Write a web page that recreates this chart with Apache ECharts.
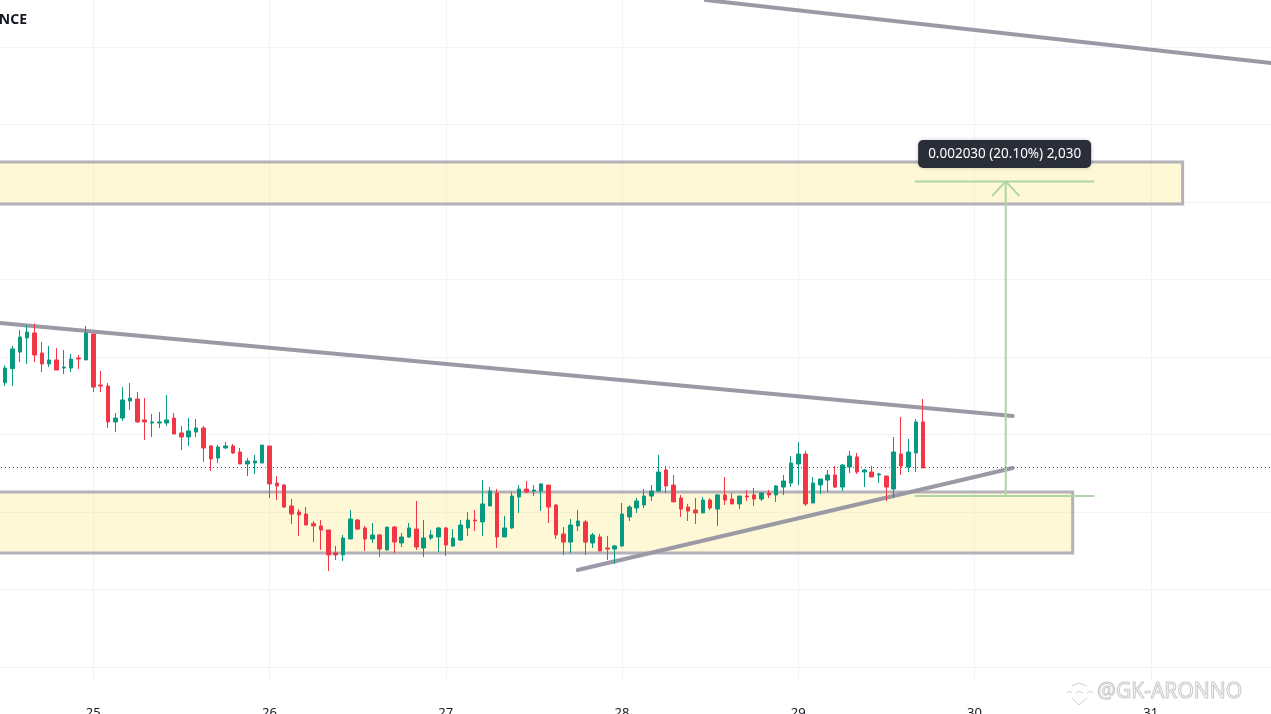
<!DOCTYPE html>
<html>
<head>
<meta charset="utf-8">
<title>BINANCE</title>
<style>
html, body { margin: 0; padding: 0; background: #fff; }
#main { width: 1271px; height: 714px; overflow: hidden; }
</style>
<script src="https://cdn.jsdelivr.net/npm/echarts@6/dist/echarts.min.js"></script>
</head>
<body>
<div id="main"></div>
<script>
// prices are kept in ticks, 1 tick = 0.000001
// hourly candles, first one is noon of day 24
var firstDay = 24.5;
var opens = [10834,10925,11032,11123,11155,11026,10955,10981,10929,10929,10994,10981,
    11148,10819,10813,10581,10606,10716,10729,10594,10574,10574,10574,10606,10510,10484,10516,10542,10426,10348,10413,10426,10387,10310,10316,10316,
    10426,10187,10174,10039,10000,9987,9925,9910,9884,9736,9723,9826,9948,9897,9826,9852,9755,9903,9800,9839,9890,9768,9832,9839,
    9897,9781,9819,9897,9948,9936,10039,10123,9839,9897,10097,10148,10135,10135,10174,10045,9858,9806,9910,9936,9800,9839,9768,9761,
    9781,9968,10026,10045,10103,10135,10271,10174,10090,10032,10013,9994,10077,10019,10110,10084,10052,10103,10110,10084,10123,10110,
    10161,10187,10310,10374,10058,10174,10206,10239,10161,10290,10355,10258,10258,10239,10232,10148,10374,10290,10381,10581];
var closes = [10929,11052,11129,11161,11013,10955,10981,10916,10935,10987,10987,11155,
    10806,10813,10581,10606,10723,10735,10581,10581,10581,10581,10594,10503,10484,10523,10542,10413,10342,10419,10426,10381,10310,10329,10329,10432,
    10181,10168,10032,9987,9981,9916,9910,9884,9723,9723,9832,9955,9890,9826,9852,9761,9903,9806,9839,9897,9774,9832,9852,9897,
    9787,9832,9916,9948,9942,10052,10135,9839,9897,10103,10148,10129,10142,10181,10032,9852,9806,9916,9942,9806,9852,9748,9761,9781,
    9987,10032,10071,10103,10135,10258,10168,10065,10019,10006,9994,10077,10026,10110,10077,10052,10103,10097,10084,10123,10110,10168,
    10200,10316,10374,10052,10187,10213,10239,10161,10303,10361,10258,10271,10226,10245,10161,10387,10297,10387,10581,10284];
var lows = [10813,10813,10968,10955,10968,10903,10935,10916,10890,10903,10923,10981,
    10774,10774,10542,10516,10587,10658,10574,10465,10484,10542,10555,10503,10400,10426,10484,10323,10265,10316,10406,10374,10310,10232,10245,10316,
    10090,10077,10026,9923,9845,9916,9806,9755,9619,9690,9684,9826,9884,9748,9800,9710,9755,9736,9774,9832,9755,9710,9819,9742,
    9716,9774,9813,9845,9877,9845,10039,9768,9839,9890,9994,10123,10103,10006,9929,9826,9723,9736,9877,9723,9768,9748,9690,9665,
    9774,9942,9994,10026,10071,10129,10123,10065,9968,9942,9923,9994,10013,9910,10045,10052,10019,10071,10039,10071,10090,10065,
    10110,10161,10174,10039,10058,10116,10129,10155,10135,10252,10245,10161,10226,10187,10071,10090,10239,10258,10258,10284];
var highs = [10946,11071,11174,11206,11217,11097,11071,11058,11045,11019,11013,11200,
    11148,10910,10832,10639,10806,10832,10774,10735,10632,10645,10755,10639,10555,10606,10600,10555,10432,10432,10452,10439,10413,10348,10368,10432,
    10426,10232,10181,10084,10019,10032,9942,9948,9884,9781,9852,10013,9955,9910,9929,9858,9903,9910,9865,9929,10071,9948,9884,9903,
    9903,9890,9948,10000,10013,10206,10161,10148,9974,10129,10174,10200,10174,10187,10174,10052,9903,9955,10013,9948,9865,9858,9845,9787,
    10058,10045,10090,10148,10174,10368,10297,10239,10110,10052,10090,10097,10090,10116,10226,10123,10103,10142,10155,10129,10142,10174,
    10239,10361,10452,10394,10226,10213,10271,10297,10310,10394,10381,10277,10297,10252,10232,10484,10613,10471,10600,10729];

var lastPrice = 10287;

// zones: day from, day to, price low, price high
var upperZone = [24, 31.181, 11987, 12258];
var lowerZone = [24, 30.557, 9735, 10129];

// trend lines: [day, price]
var topLine = [[28.475, 13303], [31.682, 12897]];
var fallingLine = [[24.471, 11219], [30.217, 10619]];
var risingLine = [[27.749, 9626], [30.217, 10284]];

// price range tool
var measureFrom = 10103;
var measureTo = 12133;
var measureDay = 30.177;
var measureLeft = 29.666;
var measureRight = 30.676;
var arrowSpan = 0.074;
var arrowDrop = 90;
var measureText = '0.002030 (20.10%) 2,030';
var measureLabelAt = [30.171, 12310];

var candles = opens.map(function (o, i) {
    return [firstDay + i / 24, o, closes[i], lows[i], highs[i]];
});

function lineSeries(name, points, color, width, z) {
    return {
        name: name,
        type: 'line',
        data: points,
        z: z,
        showSymbol: false,
        silent: true,
        animation: false,
        lineStyle: { color: color, width: width, cap: 'round' }
    };
}

var trendColor = '#9b99a5';
var measureColor = '#add5a8';

var myChart = echarts.init(document.getElementById('main'));
var option = {
    animation: false,
    backgroundColor: '#ffffff',
    // the axis ranges run past the window so every tick stays a round number
    grid: { left: -83, right: -56, top: -30.5, bottom: -30.5, outerBoundsMode: 'none' },
    xAxis: [
        {
            type: 'value', position: 'bottom', min: 24, max: 32, interval: 1, z: 0,
            axisLine: { show: false }, axisTick: { show: false }, axisLabel: { show: false },
            splitLine: { lineStyle: { color: '#f0f3fa', width: 1 } }
        },
        {
            type: 'value', position: 'bottom', min: 24, max: 32, interval: 1, z: 6,
            offset: -38,
            axisLine: { show: false }, axisTick: { show: false }, splitLine: { show: false },
            axisLabel: { margin: 0, fontSize: 13, color: '#131722', fontFamily: 'Noto Sans' }
        }
    ],
    yAxis: {
        type: 'value', min: 8500, max: 13500, interval: 500,
        axisLine: { show: false }, axisTick: { show: false }, axisLabel: { show: false },
        splitLine: { lineStyle: { color: '#f0f3fa', width: 1 } }
    },
    series: [
        {
            name: 'zones',
            type: 'custom',
            z: 1,
            silent: true,
            encode: { x: [0, 1], y: [2, 3] },
            data: [upperZone, lowerZone],
            renderItem: function (params, api) {
                var a = api.coord([api.value(0), api.value(3)]);
                var b = api.coord([api.value(1), api.value(2)]);
                return {
                    type: 'rect',
                    shape: { x: a[0], y: a[1], width: b[0] - a[0], height: b[1] - a[1] },
                    style: { fill: 'rgba(252,232,122,0.3)', stroke: '#b2b2b8', lineWidth: 3 }
                };
            }
        },
        lineSeries('top line', topLine, trendColor, 4, 2),
        lineSeries('falling line', fallingLine, trendColor, 4, 2),
        lineSeries('rising line', risingLine, trendColor, 4, 2),
        {
            name: 'candles',
            type: 'candlestick',
            z: 3,
            encode: { x: 0, y: [1, 2, 3, 4] },
            data: candles,
            barWidth: 4,
            silent: true,
            itemStyle: {
                color: '#089981', color0: '#f23645',
                borderColor: '#089981', borderColor0: '#f23645', borderWidth: 1
            },
            markLine: {
                silent: true,
                symbol: 'none',
                label: { show: false },
                lineStyle: { color: '#8f3c48', type: [1, 3], width: 1 },
                data: [{ yAxis: lastPrice }]
            }
        },
        lineSeries('measure', [[measureDay, measureFrom], [measureDay, measureTo]], measureColor, 2, 4),
        lineSeries('measure from', [[measureLeft, measureFrom], [measureRight, measureFrom]], measureColor, 2, 4),
        lineSeries('measure to', [[measureLeft, measureTo], [measureRight, measureTo]], measureColor, 2, 4),
        lineSeries('measure arrow', [
            [measureDay - arrowSpan, measureTo - arrowDrop],
            [measureDay, measureTo],
            [measureDay + arrowSpan, measureTo - arrowDrop]
        ], measureColor, 2, 4),
        {
            name: 'measure label',
            type: 'scatter',
            z: 5,
            silent: true,
            symbolSize: 1,
            itemStyle: { color: 'rgba(0,0,0,0)', opacity: 1 },
            data: [measureLabelAt],
            label: {
                show: true,
                position: 'inside',
                formatter: measureText,
                color: '#ffffff',
                fontFamily: 'Noto Sans',
                fontSize: 13.5,
                backgroundColor: '#2a2e39',
                borderRadius: 5,
                padding: [7, 10, 7, 10],
                shadowColor: 'rgba(0,0,0,0.2)',
                shadowBlur: 4
            }
        }
    ],
    graphic: [
        { type: 'rect', z: 3, silent: true, shape: { x: 0, y: 680, width: 1271, height: 34 }, style: { fill: '#ffffff' } },
        { type: 'text', z: 7, silent: true, style: { x: 27, y: 20, text: 'BINANCE', align: 'right', verticalAlign: 'middle', fill: '#131722', font: 'bold 14px "Noto Sans"' } },
        { type: 'text', z: 7, silent: true, style: { x: 1097, y: 692, text: '@GK-ARONNO', verticalAlign: 'middle', fill: 'rgba(255,255,255,0)', stroke: '#c9c9c9', lineWidth: 1, font: '21px "Noto Sans"' } },
        { type: 'polyline', z: 7, silent: true, shape: { points: [[1072, 686], [1079, 683], [1087, 686]] }, style: { fill: 'none', stroke: '#d0d0d0', lineWidth: 1 } },
        { type: 'polyline', z: 7, silent: true, shape: { points: [[1067, 693], [1069, 691], [1072, 693]] }, style: { fill: 'none', stroke: '#d0d0d0', lineWidth: 1 } },
        { type: 'polyline', z: 7, silent: true, shape: { points: [[1076, 693], [1079, 691], [1083, 693]] }, style: { fill: 'none', stroke: '#d0d0d0', lineWidth: 1 } },
        { type: 'polyline', z: 7, silent: true, shape: { points: [[1087, 693], [1090, 691], [1093, 693]] }, style: { fill: 'none', stroke: '#d0d0d0', lineWidth: 1 } },
        { type: 'polyline', z: 7, silent: true, shape: { points: [[1072, 698], [1079, 705], [1087, 698]] }, style: { fill: 'none', stroke: '#d0d0d0', lineWidth: 1 } }
    ]
};
myChart.setOption(option);
</script>
</body>
</html>
